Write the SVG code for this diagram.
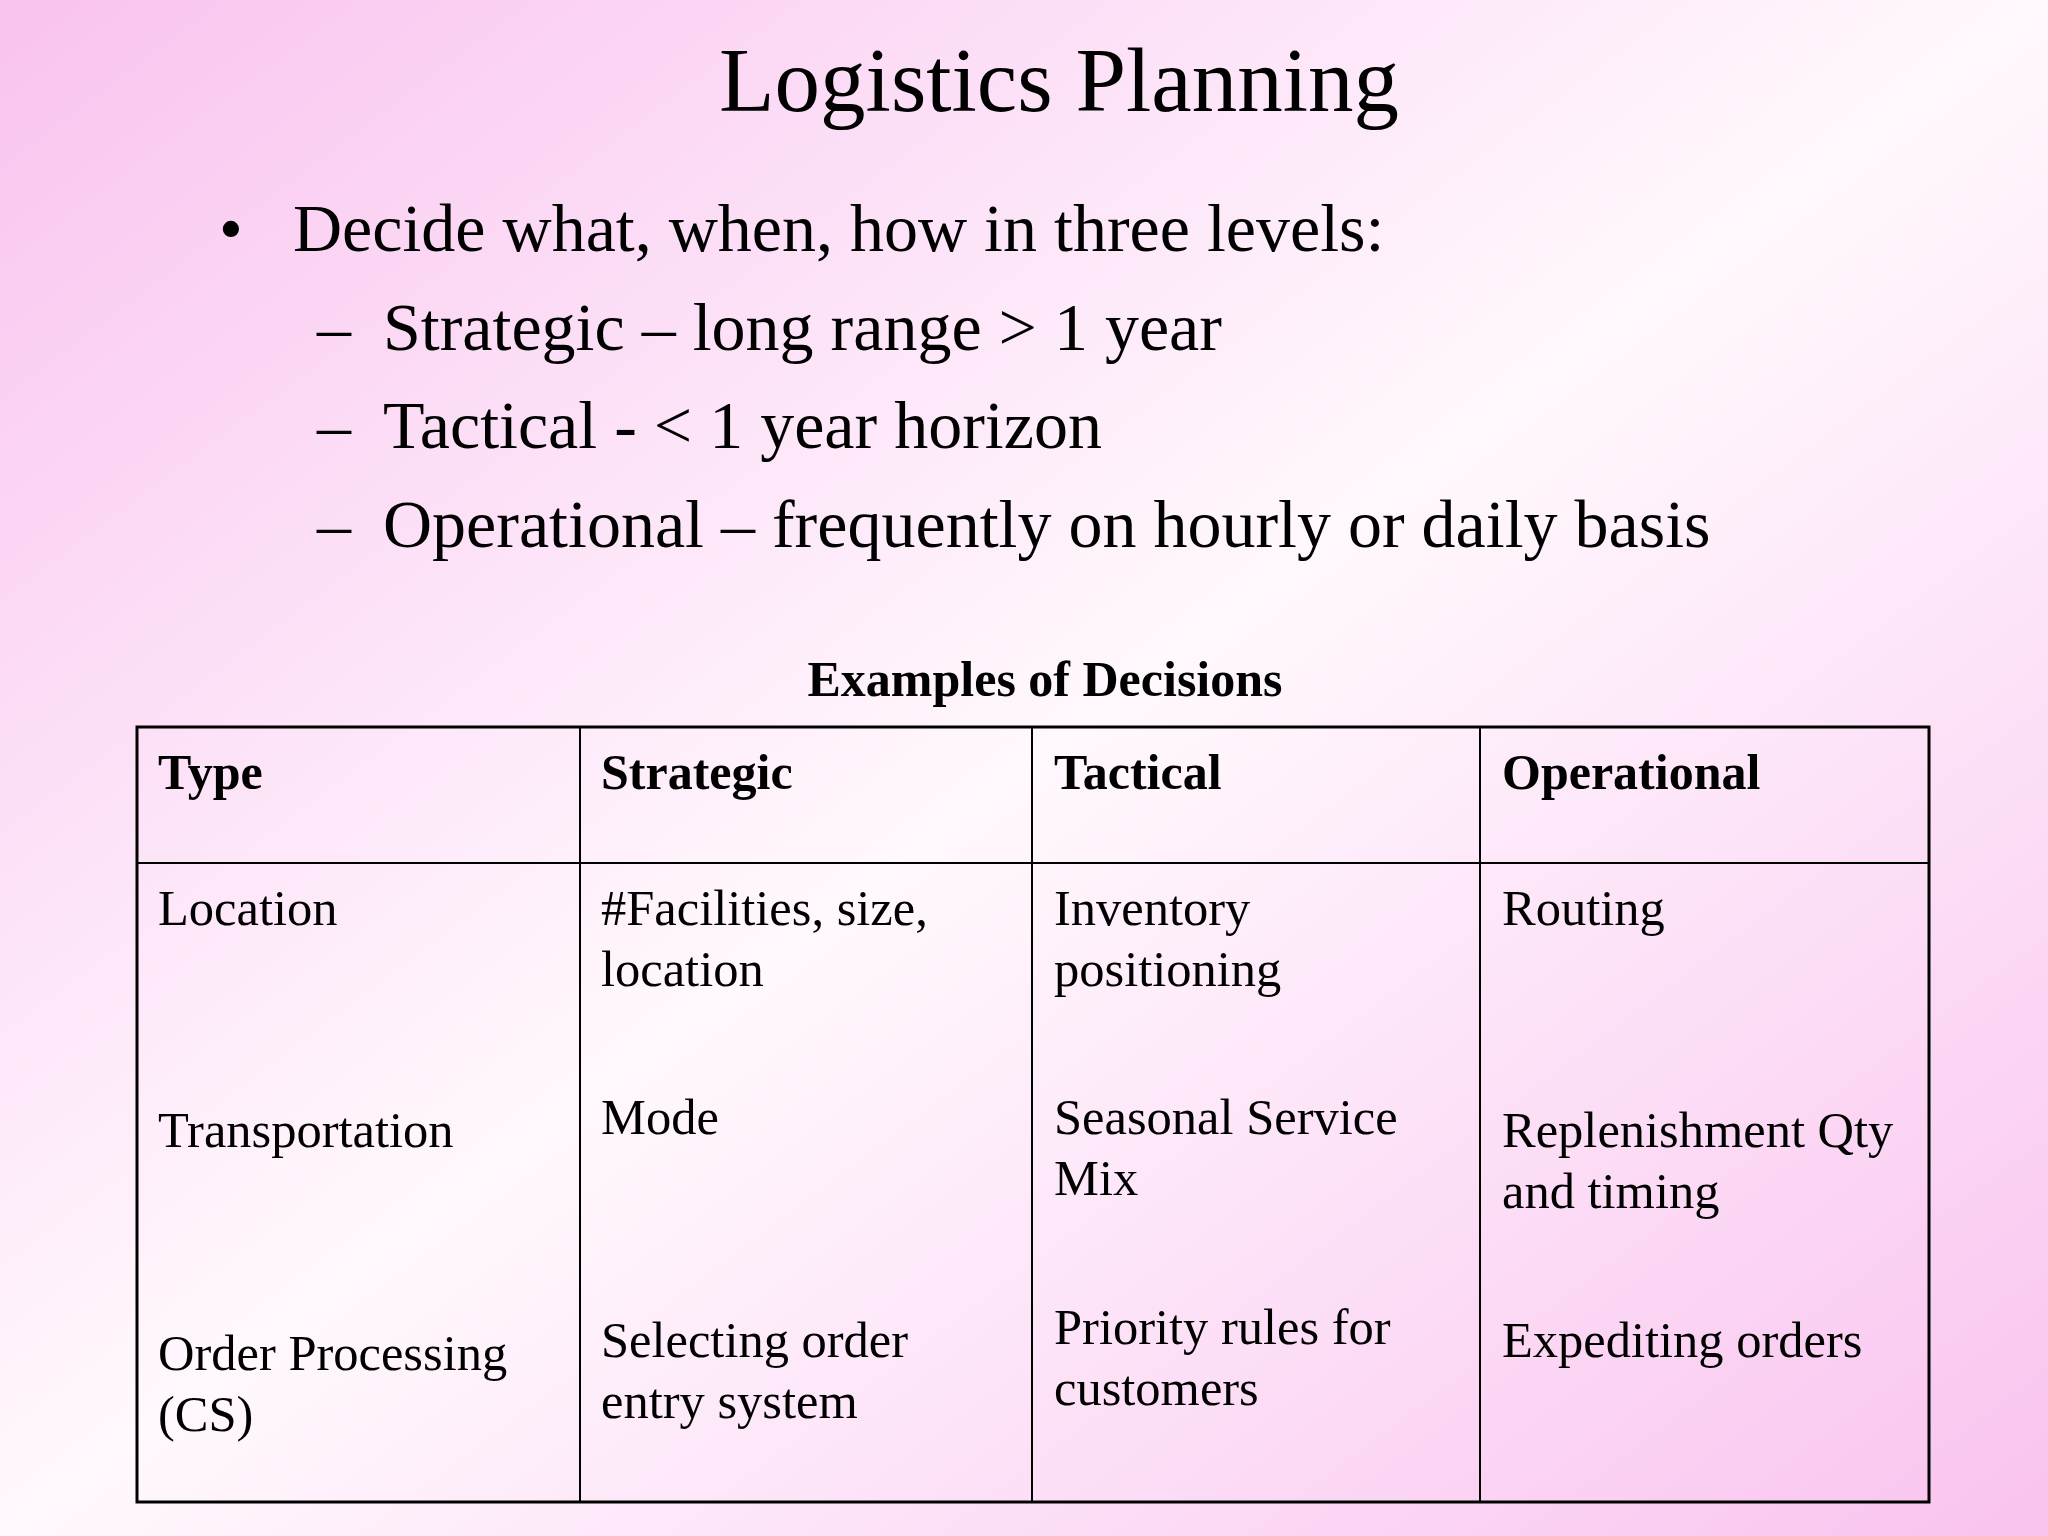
<svg xmlns="http://www.w3.org/2000/svg" width="2048" height="1536" viewBox="0 0 2048 1536">
<defs>
<linearGradient id="bg" x1="0" y1="0" x2="1" y2="1">
<stop offset="0" stop-color="#f9c3ef"/>
<stop offset="0.5" stop-color="#fff8fd"/>
<stop offset="1" stop-color="#f9c3ef"/>
</linearGradient>
<style>
text{font-family:"Liberation Serif","Times New Roman",serif;fill:#000}
.b{font-size:68px}
.h{font-size:50px;font-weight:bold}
.c{font-size:50.5px}
.g line{stroke:#000;stroke-width:2}
</style>
</defs>
<rect width="2048" height="1536" fill="url(#bg)"/>
<text x="1059" y="111" font-size="91" text-anchor="middle">Logistics Planning</text>
<g class="b">
<text x="219" y="251">•</text>
<text x="293" y="251">Decide what, when, how in three levels:</text>
<text x="317" y="350">–</text><text x="383" y="350">Strategic – long range &gt; 1 year</text>
<text x="317" y="448">–</text><text x="383" y="448">Tactical - &lt; 1 year horizon</text>
<text x="317" y="547">–</text><text x="383" y="547">Operational – frequently on hourly or daily basis</text>
</g>
<text x="1045" y="696" class="h" text-anchor="middle">Examples of Decisions</text>
<g id="table" class="g">
<rect x="137" y="727" width="1792" height="775" fill="none" stroke="#000" stroke-width="3"/>
<line x1="137" y1="863" x2="1929" y2="863"/>
<line x1="580" y1="727" x2="580" y2="1502"/>
<line x1="1032" y1="727" x2="1032" y2="1502"/>
<line x1="1480" y1="727" x2="1480" y2="1502"/>
</g>
<g class="h">
<text x="158" y="789">Type</text>
<text x="601" y="789">Strategic</text>
<text x="1054" y="789">Tactical</text>
<text x="1502" y="789">Operational</text>
</g>
<g class="c">
<text x="158" y="925">Location</text>
<text x="601" y="925">#Facilities, size,</text><text x="601" y="986">location</text>
<text x="1054" y="925">Inventory</text><text x="1054" y="986">positioning</text>
<text x="1502" y="925">Routing</text>
<text x="158" y="1147">Transportation</text>
<text x="601" y="1134">Mode</text>
<text x="1054" y="1134">Seasonal Service</text><text x="1054" y="1195">Mix</text>
<text x="1502" y="1147">Replenishment Qty</text><text x="1502" y="1208">and timing</text>
<text x="158" y="1370">Order Processing</text><text x="158" y="1431">(CS)</text>
<text x="601" y="1357">Selecting order</text><text x="601" y="1418">entry system</text>
<text x="1054" y="1344">Priority rules for</text><text x="1054" y="1405">customers</text>
<text x="1502" y="1357">Expediting orders</text>
</g>
</svg>
